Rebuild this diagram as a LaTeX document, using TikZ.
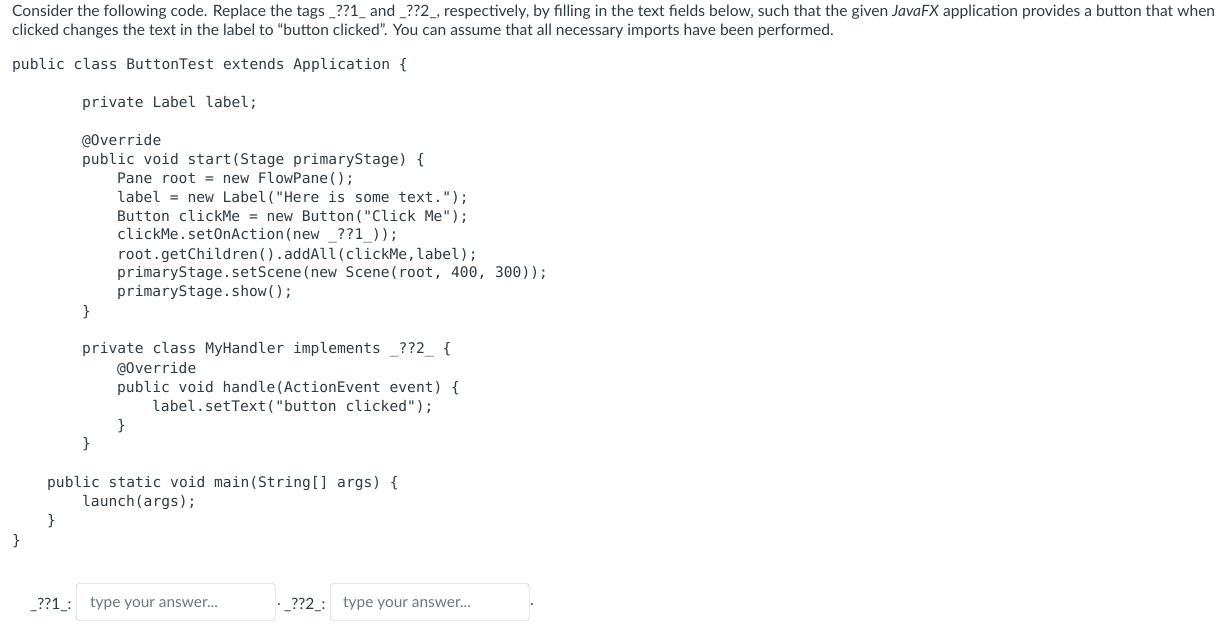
\documentclass[tikz,border=0pt]{standalone}
\usepackage{fontspec}
\setmainfont{Lato}
\newfontfamily\codefont{DejaVu Sans Mono}
\definecolor{txt}{HTML}{2D3B45}
\definecolor{boxc}{HTML}{B8C0C5}
\definecolor{ph}{HTML}{6B7780}
\begin{document}
\begin{tikzpicture}[x=1pt,y=-1pt,
  para/.style={anchor=west,inner sep=0pt,text=txt,font=\fontsize{15.6}{18}\selectfont},
  code/.style={anchor=west,inner sep=0pt,text=txt,font=\codefont\fontsize{14.6}{17}\selectfont},
  ansbox/.style={draw=boxc,rounded corners=3pt,minimum width=199pt,minimum height=37pt,anchor=west,inner sep=0pt},
  phtxt/.style={anchor=west,inner sep=0pt,text=ph,font=\fontsize{15.4}{18}\selectfont}]
\useasboundingbox (0,0) rectangle (1231,634);
\node[para] (p1) at (12,12) {Consider the following code. Replace the tags \_??1\_ and \_??2\_, respectively, by filling in the text fields below, such that the given \textit{JavaFX} application provides a button that when};
\node[para] (p2) at (12,31) {clicked changes the text in the label to “button clicked”. You can assume that all necessary imports have been performed.};
\node[code] (c1) at (12,65) {public class ButtonTest extends Application \{};
\node[code] (c2) at (82,103) {private Label label;};
\node[code] (c3) at (82,141) {@Override};
\node[code] (c4) at (82,160) {public void start(Stage primaryStage) \{};
\node[code] (c5) at (117,179) {Pane root = new FlowPane();};
\node[code] (c6) at (117,198) {label = new Label("Here is some text.");};
\node[code] (c7) at (117,217) {Button clickMe = new Button("Click Me");};
\node[code] (c8) at (117,236) {clickMe.setOnAction(new \_??1\_));};
\node[code] (c9) at (117,255) {root.getChildren().addAll(clickMe,label);};
\node[code] (c10) at (117,274) {primaryStage.setScene(new Scene(root, 400, 300));};
\node[code] (c11) at (117,293) {primaryStage.show();};
\node[code] (c12) at (82,312) {\}};
\node[code] (c13) at (82,350) {private class MyHandler implements \_??2\_ \{};
\node[code] (c14) at (117,369) {@Override};
\node[code] (c15) at (117,388) {public void handle(ActionEvent event) \{};
\node[code] (c16) at (152,407) {label.setText("button clicked");};
\node[code] (c17) at (117,426) {\}};
\node[code] (c18) at (82,444) {\}};
\node[code] (c19) at (47,483) {public static void main(String[] args) \{};
\node[code] (c20) at (82,502) {launch(args);};
\node[code] (c21) at (47,521) {\}};
\node[code] (c22) at (12,541) {\}};
\node[para] (l1) at (30,605) {\_??1\_:};
\node[ansbox] (b1) at (76,602) {};
\node[phtxt] (t1) at (90,604) {type your answer...};
\node[para] (d1) at (277,605) {.};
\node[para] (l2) at (284,605) {\_??2\_:};
\node[ansbox] (b2) at (330,602) {};
\node[phtxt] (t2) at (343,604) {type your answer...};
\node[para] (d2) at (530,605) {.};
\end{tikzpicture}
\end{document}
